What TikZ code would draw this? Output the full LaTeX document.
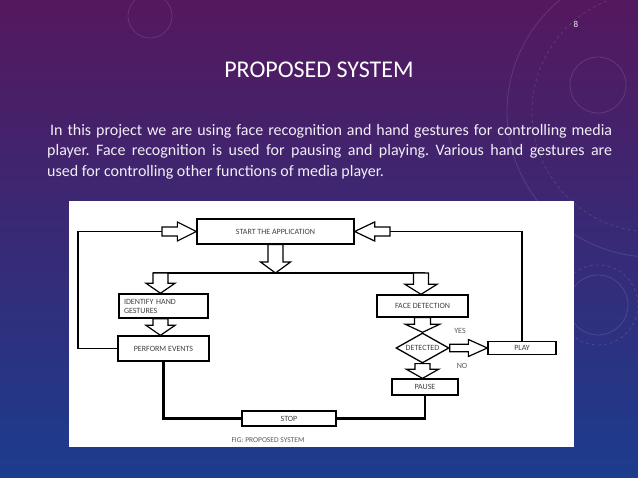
\documentclass[tikz,border=0pt]{standalone}
\usepackage{fontspec}
\setmainfont{Carlito}
\frenchspacing
\usetikzlibrary{calc,shapes.geometric,positioning}

\definecolor{bgtop}{RGB}{84,24,94}
\definecolor{bgmid}{RGB}{60,30,118}
\definecolor{bgbot}{RGB}{28,60,142}
\definecolor{ink}{RGB}{242,238,246}

% hollow block arrow: start, end, stem half width, head half width, head length
\newcommand{\fatarrow}[5]{%
  \path ($(#2)!#5!(#1)$) coordinate (hb);
  \draw[fat] ($(#1)!#3!90:(#2)$) -- ($(hb)!#3!-90:(#1)$) -- ($(hb)!#4!-90:(#1)$) -- (#2)
    -- ($(hb)!#4!90:(#1)$) -- ($(hb)!#3!90:(#1)$) -- ($(#1)!#3!-90:(#2)$) -- cycle;}

\begin{document}
\begin{tikzpicture}[x=1pt, y=-1pt,
  box/.style={draw=black, line width=1.3pt, fill=white, rectangle, inner sep=2pt, font=\fontsize{8}{9}\selectfont, text=black!75},
  fat/.style={draw=black, line width=1.2pt, fill=white, line join=miter},
  wire/.style={draw=black, line width=1.3pt},
  thickwire/.style={draw=black, line width=2.6pt},
  lbl/.style={font=\fontsize{8}{9}\selectfont, text=black!65},
  deco/.style={draw=white, opacity=0.12, line width=0.8pt}]

\useasboundingbox (0,0) rectangle (638,478);
\shade[top color=bgtop, middle color=bgmid, bottom color=bgbot] (0,0) rectangle (638,478);

% background rings
\begin{scope}
\clip (0,0) rectangle (638,478);
\draw[deco] (652,112) circle (145);
\draw[deco, dashed] (652,112) circle (120);
\draw[deco] (598,85) circle (28);
\draw[deco] (598,305) circle (30);
\draw[deco, dashed] (598,305) circle (40);
\draw[deco] (150,16) circle (22);
\end{scope}

\node[text=ink, font=\fontsize{9}{10}\selectfont] (num) at (576,24) {8};
\node[text=white, font=\fontsize{24}{28}\selectfont] (title) at (319,70) {PROPOSED SYSTEM};
\node[anchor=north west, text width=565pt, align=justify, inner sep=0pt, text=ink, font=\fontsize{16}{20.5}\selectfont] (intro) at (47,124)
  {\hspace*{3pt}In this project we are using face recognition and hand gestures for controlling media\linebreak
  player. Face recognition is used for pausing and playing. Various hand gestures are\linebreak
  used for controlling other functions of media player.};

\fill[white] (69,201) rectangle (574,447);

% boxes
\node[box, minimum width=157pt, minimum height=25pt] (start) at (275.5,231.5) {START THE APPLICATION};
\node[box, minimum width=89pt, minimum height=24pt, inner sep=5pt, text width=79pt, align=left, font=\fontsize{8}{9}\selectfont] (ident) at (163.5,306) {IDENTIFY HAND\\GESTURES};
\node[box, minimum width=91pt, minimum height=22pt] (face) at (422.5,306) {FACE DETECTION};
\node[box, minimum width=91pt, minimum height=25pt] (perf) at (163.5,348.5) {PERFORM EVENTS};
\node[box, diamond, aspect=2, minimum width=53pt, minimum height=30pt, inner sep=0pt] (detect) at (422.5,348) {DETECTED};
\node[box, minimum width=66pt, minimum height=16pt] (pause) at (425,387) {PAUSE};
\node[box, minimum width=68pt, minimum height=13pt] (play) at (522,348) {PLAY};
\node[box, minimum width=94pt, minimum height=15pt] (stop) at (289,418.5) {STOP};

% points on the connectors
\coordinate (sl) at (153,273);
\coordinate (sr) at (425,273);
\coordinate (jl) at (160.5,273);
\coordinate (jr) at (421,273);
\coordinate (jm) at (275.5,273);
\coordinate (identin) at (jl |- ident.north);
\coordinate (identout) at (jl |- ident.south);
\coordinate (perfin) at (jl |- perf.north);
\coordinate (facein) at (jr |- face.north);
\coordinate (pausein) at (detect.south |- pause.north);
\coordinate (playin) at (detect.east -| play.west);
\coordinate (ltop) at (78,231.5);
\coordinate (la) at (162,231.5);
\coordinate (ra) at (390,231.5);

% connectors
\draw[wire] (sl) -- (sr);
\draw[wire] (perf.west) -| (ltop) -- (la);
\draw[wire] (play.north) |- (ra);
\draw[thickwire] (perf.south) |- (stop.west);
\draw[thickwire] (stop.east) -| (pause.south);

\fatarrow{start.south}{jm}{7.5pt}{15pt}{11pt}
\fatarrow{jl}{identin}{7.5pt}{14.5pt}{10pt}
\fatarrow{identout}{perfin}{7.5pt}{14.5pt}{10pt}
\fatarrow{jr}{facein}{7.5pt}{16pt}{10pt}
\fatarrow{face.south}{detect.north}{8pt}{17pt}{8pt}
\fatarrow{detect.south}{pausein}{7.5pt}{16pt}{9pt}
\fatarrow{detect.east}{playin}{3.8pt}{8.5pt}{19pt}
\fatarrow{la}{start.west}{4.5pt}{9.5pt}{19pt}
\fatarrow{ra}{start.east}{4.5pt}{9.5pt}{20pt}

\node[lbl] (yes) at (460,331) {YES};
\node[lbl] (no) at (462,366) {NO};
\node[lbl, font=\fontsize{7.5}{9}\selectfont] (caption) at (268,440) {FIG: PROPOSED SYSTEM};
\end{tikzpicture}
\end{document}
